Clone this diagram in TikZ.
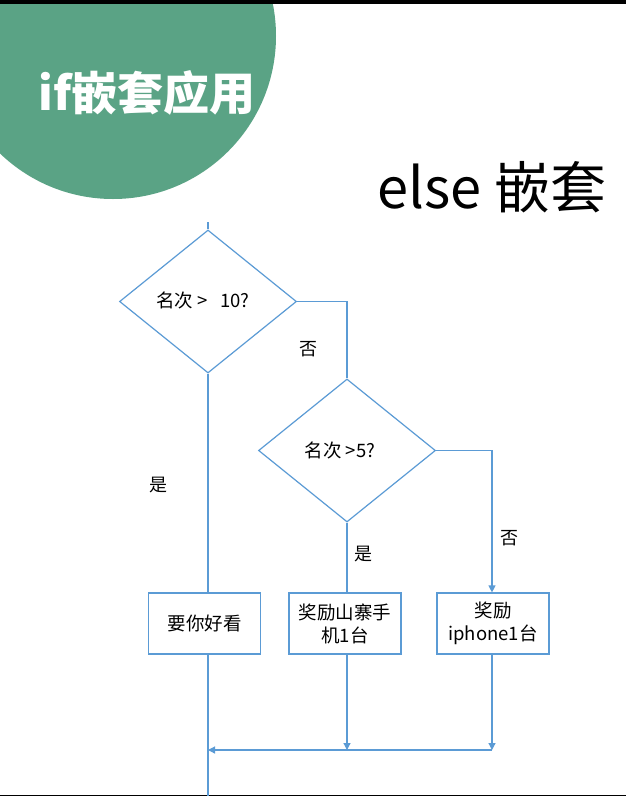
\documentclass[tikz,border=0pt]{standalone}
\usepackage{fontspec}
\setmainfont{Noto Sans CJK SC}
\usetikzlibrary{shapes.geometric,arrows.meta}
\definecolor{flow}{HTML}{5B9BD5}
\definecolor{leaf}{HTML}{5AA385}
\tikzset{
  conn/.style={draw=flow,line width=1.2pt},
  arr/.style={conn,-{Triangle[width=7pt,length=7pt]}},
  decide/.style={shape=diamond,draw=flow,line width=1.2pt,minimum width=177pt,minimum height=143pt,inner sep=0pt},
  dtext/.style={font=\fontsize{18.5}{22}\selectfont},
  result/.style={draw=flow,line width=1.2pt,minimum width=112pt,minimum height=61pt,inner sep=0pt,align=center,font=\fontsize{18.5}{23}\selectfont},
  lbl/.style={font=\fontsize{18}{21}\selectfont}
}
\begin{document}
\begin{tikzpicture}[x=1pt,y=-1pt]
\useasboundingbox (0,0) rectangle (626,796);
\fill[white] (0,0) rectangle (626,796);
\begin{scope}
\clip (0,0) rectangle (626,796);
\fill[leaf] (113,36) circle[radius=163];
\end{scope}
\fill[black] (0,0) rectangle (626,4);
\fill[black] (0,794.5) rectangle (626,796);
\node[text=white,font=\fontsize{46}{52}\selectfont\bfseries] (title) at (147,93) {if嵌套应用};
\node[font=\fontsize{56}{62}\selectfont] (sub) at (492,187) {else 嵌套};
% flow
\coordinate (start) at (208,222);
\node[decide] (d1) at (208,301.5) {};
\node[decide] (d2) at (347,450.5) {};
\node[dtext] (t1) at (203,300) {名次 >\ \ \ 10?};
\node[dtext] (t2) at (340,450) {名次 >5?};
\node[result] (b1) at (204.5,623.5) {要你好看};
\node[result] (b2) at (345,623.5) {奖励山寨手\\机1台};
\node[result] (b3) at (493,623.5) {奖励\\iphone1台};
\coordinate (j1) at (208,750);
\coordinate (j2) at (347,750);
\coordinate (j3) at (492,750);
\coordinate (end) at (208,796);
\draw[conn] (start) -- (d1.north);
\draw[conn] (d1.east) -| (d2.north);
\draw[arr] (d2.east) -| (d2.east -| j3) -- (j3 |- b3.north);
\draw[conn] (d2.south) -- (d2.south |- b2.north);
\draw[conn] (d1.south) -- (d1.south |- b1.north);
\draw[conn] (b1.south -| j1) -- (end);
\draw[arr] (b2.south -| j2) -- (j2);
\draw[arr] (b3.south -| j3) -- (j3);
\draw[arr] (j3) -- (j1);
\node[lbl] (no1) at (308,349) {否};
\node[lbl] (yes1) at (158,485) {是};
\node[lbl] (yes2) at (363,554) {是};
\node[lbl] (no2) at (509,538) {否};
\end{tikzpicture}
\end{document}
